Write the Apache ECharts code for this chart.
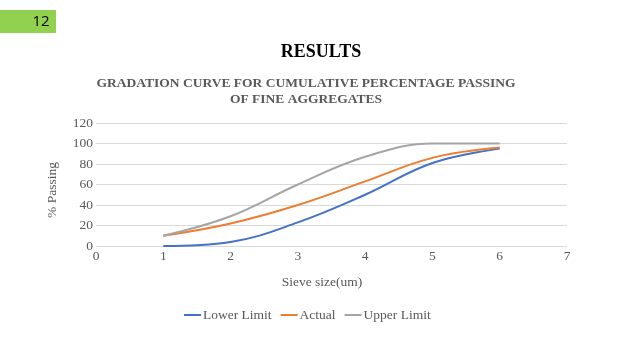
<!DOCTYPE html>
<html><head><meta charset="utf-8">
<script src="https://cdn.jsdelivr.net/npm/echarts@6/dist/echarts.min.js"></script>
<style>html,body{margin:0;padding:0;background:#fff;}#c{width:638px;height:359px;}</style>
</head><body><div id="c"></div>
<script>
var sieveSizes = [1, 2, 3, 4, 5, 6];
var lowerLimit = [0, 4, 23, 50, 81, 95];
var actual = [10, 22, 40, 63, 86, 96];
var upperLimit = [10, 29, 60, 87, 100, 100];
var xTicks = [0, 1, 2, 3, 4, 5, 6, 7];
var yTicks = [0, 20, 40, 60, 80, 100, 120];

function pairs(xs, ys){ return xs.map(function(x,i){ return [x, ys[i]]; }); }
var serif = 'Liberation Serif';
var chart = echarts.init(document.getElementById('c'));
chart.setOption({
  animation: false,
  graphic: [
    {type:'rect', shape:{x:0,y:10,width:56,height:23}, style:{fill:'#92D050'}},
    {type:'text', x:41, y:21.5, style:{text:'12', fill:'#000', font:'15px "Open Sans"', align:'center', verticalAlign:'middle'}},
    {type:'text', x:321, y:52, style:{text:'RESULTS', fill:'#000', font:'bold 18px "Liberation Serif"', align:'center', verticalAlign:'middle'}},
    {type:'text', x:306, y:92, style:{text:'GRADATION CURVE FOR CUMULATIVE PERCENTAGE PASSING\nOF FINE AGGREGATES', fill:'#595959', font:'bold 13.5px "Liberation Serif"', align:'center', verticalAlign:'middle', lineHeight:16}},
    {type:'text', x:322, y:282, style:{text:'Sieve size(um)', fill:'#595959', font:'13.5px "Liberation Serif"', align:'center', verticalAlign:'middle'}},
    {type:'text', x:52, y:190, rotation:Math.PI/2, style:{text:'% Passing', fill:'#595959', font:'13.5px "Liberation Serif"', align:'center', verticalAlign:'middle'}}
  ],
  grid: {left:96, right:71, top:123, bottom:113},
  xAxis: {
    type:'value', min:0, max:7, interval:1,
    axisLine:{show:false}, axisTick:{show:false}, splitLine:{show:false},
    axisLabel:{fontFamily:serif, fontSize:13.5, color:'#595959', margin:3}
  },
  yAxis: {
    type:'value', min:0, max:120, interval:20,
    axisLine:{show:false}, axisTick:{show:false},
    splitLine:{lineStyle:{color:'#d9d9d9', width:1}},
    axisLabel:{fontFamily:serif, fontSize:13.5, color:'#595959', margin:3}
  },
  legend: {
    top:303, left:179, itemGap:9, itemWidth:17, itemHeight:2, icon:'rect',
    textStyle:{fontFamily:serif, fontSize:13.5, color:'#595959', padding:[0,0,0,-3]},
    data:['Lower Limit','Actual','Upper Limit']
  },
  series: [
    {name:'Lower Limit', type:'line', smooth:0.4, showSymbol:false, data:pairs(sieveSizes, lowerLimit), lineStyle:{color:'#4472C4', width:2}, itemStyle:{color:'#4472C4'}},
    {name:'Actual', type:'line', smooth:0.4, showSymbol:false, data:pairs(sieveSizes, actual), lineStyle:{color:'#ED7D31', width:2}, itemStyle:{color:'#ED7D31'}},
    {name:'Upper Limit', type:'line', smooth:0.4, showSymbol:false, data:pairs(sieveSizes, upperLimit), lineStyle:{color:'#A5A5A5', width:2}, itemStyle:{color:'#A5A5A5'}}
  ]
});
</script></body></html>
